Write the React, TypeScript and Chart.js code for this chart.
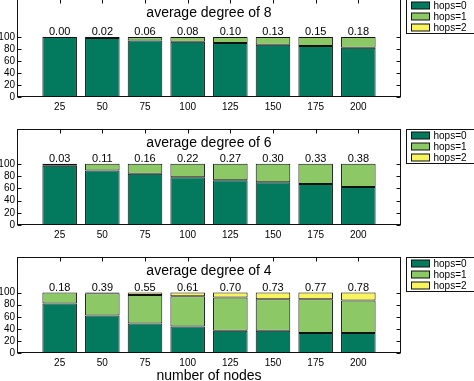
import React, { useEffect, useRef } from 'react';
import { Chart, registerables } from 'chart.js';

Chart.register(...registerables);

// ---------- data ----------
const nodeCounts = [25, 50, 75, 100, 125, 150, 175, 200];
const yTickValues = [0, 20, 40, 60, 80, 100];
const seriesNames = ['hops=0', 'hops=1', 'hops=2'];
const xAxisTitle = 'number of nodes';

const deg8Title = 'average degree of 8';
const deg8Hops0 = [100, 98, 94, 92, 90, 87, 85, 82];
const deg8Hops1 = [0, 2, 6, 8, 10, 13, 15, 18];
const deg8Hops2 = [0, 0, 0, 0, 0, 0, 0, 0];
const deg8AvgLabels = ['0.00', '0.02', '0.06', '0.08', '0.10', '0.13', '0.15', '0.18'];

const deg6Title = 'average degree of 6';
const deg6Hops0 = [97, 89, 84, 78, 73, 70, 67, 62];
const deg6Hops1 = [3, 11, 16, 22, 27, 30, 33, 38];
const deg6Hops2 = [0, 0, 0, 0, 0, 0, 0, 0];
const deg6AvgLabels = ['0.03', '0.11', '0.16', '0.22', '0.27', '0.30', '0.33', '0.38'];

const deg4Title = 'average degree of 4';
const deg4Hops0 = [82, 62, 49, 44, 37, 37, 33, 33];
const deg4Hops1 = [18, 37, 47, 50, 55, 52, 56, 54];
const deg4Hops2 = [0, 1, 4, 6, 8, 11, 11, 13];
const deg4AvgLabels = ['0.18', '0.39', '0.55', '0.61', '0.70', '0.73', '0.77', '0.78'];

// ---------- styles / layout ----------
const FONT = "'Liberation Sans', Arial, Helvetica, sans-serif";
const seriesColors = ['#037a5e', '#8cc866', '#f8f45e'];
const EDGE = '#111111';
const PAD_TOP = 5;
const AXIS_W = 17;
const RIGHT_PAD = 73;
const WIDTH = 474;

type Panel = {
  title: string;
  h0: number[];
  h1: number[];
  h2: number[];
  avg: string[];
  frameTop: number;
  frameHeight: number;
  yMax: number;
  xAxisH: number;
  showXTitle: boolean;
};

const panels: Panel[] = [
  { title: deg8Title, h0: deg8Hops0, h1: deg8Hops1, h2: deg8Hops2, avg: deg8AvgLabels, frameTop: -1, frameHeight: 98, yMax: 163, xAxisH: 18, showXTitle: false },
  { title: deg6Title, h0: deg6Hops0, h1: deg6Hops1, h2: deg6Hops2, avg: deg6AvgLabels, frameTop: 129, frameHeight: 96, yMax: 157, xAxisH: 18, showXTitle: false },
  { title: deg4Title, h0: deg4Hops0, h1: deg4Hops1, h2: deg4Hops2, avg: deg4AvgLabels, frameTop: 257, frameHeight: 96, yMax: 159, xAxisH: 28, showXTitle: true },
];

function PanelChart({ p }: { p: Panel }) {
  const ref = useRef<HTMLCanvasElement | null>(null);
  const height = PAD_TOP + p.frameHeight + p.xAxisH;

  useEffect(() => {
    if (!ref.current) return;
    const series = [p.h0, p.h1, p.h2];

    const framePlugin = {
      id: 'matlabFrame',
      beforeDatasetsDraw(chart: any) {
        const { ctx, chartArea: a, scales } = chart;
        const x = scales.x, y = scales.y;
        const L = Math.round(a.left) + 0.5;
        const R = Math.round(a.right) - 0.5;
        const T = Math.round(a.top) + 0.5;
        const B = Math.round(a.bottom) - 0.5;
        ctx.save();
        ctx.strokeStyle = EDGE;
        ctx.lineWidth = 1;
        ctx.strokeRect(L, T, R - L, B - T);
        ctx.beginPath();
        x.ticks.forEach((t: any) => {
          const px = Math.round(x.getPixelForValue(t.value)) + 0.5;
          ctx.moveTo(px, T); ctx.lineTo(px, T + 4);
          ctx.moveTo(px, B); ctx.lineTo(px, B - 4);
        });
        y.ticks.forEach((t: any) => {
          const py = Math.round(y.getPixelForValue(t.value)) + 0.5;
          ctx.moveTo(L, py); ctx.lineTo(L + 4, py);
          ctx.moveTo(R, py); ctx.lineTo(R - 4, py);
        });
        ctx.stroke();
        ctx.restore();
      },
      afterDraw(chart: any) {
        const { ctx, chartArea: a } = chart;
        ctx.save();
        ctx.fillStyle = '#000';
        ctx.font = `14px ${FONT}`;
        ctx.textAlign = 'center';
        ctx.textBaseline = 'middle';
        ctx.fillText(p.title, (a.left + a.right) / 2, a.top + 14);
        ctx.font = `11px ${FONT}`;
        const topMeta = chart.getDatasetMeta(chart.data.datasets.length - 1);
        topMeta.data.forEach((el: any, i: number) => {
          ctx.fillText(p.avg[i], el.x, el.y - 5);
        });
        const lx = Math.round(a.right) + 5.5;
        const ly = Math.round(a.top) + 0.5;
        ctx.fillStyle = '#fff';
        ctx.fillRect(lx, ly, 90, 34);
        ctx.strokeStyle = EDGE;
        ctx.lineWidth = 1;
        ctx.strokeRect(lx, ly, 90, 34);
        ctx.font = `10px ${FONT}`;
        ctx.textAlign = 'left';
        chart.data.datasets.forEach((ds: any, i: number) => {
          const cy = ly + 6 + i * 11;
          ctx.fillStyle = ds.backgroundColor;
          ctx.fillRect(lx + 5, cy - 3.5, 18, 7);
          ctx.strokeStyle = EDGE;
          ctx.strokeRect(lx + 5, cy - 3.5, 18, 7);
          ctx.fillStyle = '#000';
          ctx.fillText(ds.label, lx + 27, cy + 0.5);
        });
        ctx.restore();
      },
    };

    const chart = new Chart(ref.current, {
      type: 'bar',
      data: {
        datasets: seriesNames.map((name, k) => ({
          label: name,
          data: nodeCounts.map((n, i) => ({ x: n, y: series[k][i] })),
          backgroundColor: seriesColors[k],
          borderColor: EDGE,
          borderWidth: 1,
          borderSkipped: false,
          barPercentage: 0.81,
          categoryPercentage: 1,
        })),
      },
      options: {
        responsive: false,
        maintainAspectRatio: false,
        animation: false,
        layout: { padding: { top: PAD_TOP, right: RIGHT_PAD, left: 0, bottom: 0 } },
        plugins: { legend: { display: false }, tooltip: { enabled: false } },
        scales: {
          x: {
            type: 'linear',
            offset: false,
            stacked: true,
            min: 0,
            max: 225,
            grid: { display: false, drawTicks: false },
            border: { display: false },
            afterBuildTicks: (s: any) => { s.ticks = nodeCounts.map((v) => ({ value: v })); },
            afterFit: (s: any) => { s.height = p.xAxisH; s.paddingLeft = 0; s.paddingRight = 0; },
            ticks: { color: '#000', font: { size: 10, family: FONT }, padding: 4, maxRotation: 0, autoSkip: false, callback: (v: any) => String(v) },
            title: { display: p.showXTitle, text: xAxisTitle, color: '#000', font: { size: 14, family: FONT, lineHeight: 1 }, padding: { top: 0, bottom: -2 } },
          },
          y: {
            type: 'linear',
            stacked: true,
            min: 0,
            max: p.yMax,
            grid: { display: false, drawTicks: false },
            border: { display: false },
            afterBuildTicks: (s: any) => { s.ticks = yTickValues.map((v) => ({ value: v })); },
            afterFit: (s: any) => { s.width = AXIS_W; s.paddingTop = 0; s.paddingBottom = 0; },
            ticks: { color: '#000', font: { size: 10, family: FONT }, padding: 2, callback: (v: any) => String(v) },
          },
        },
      },
      plugins: [framePlugin],
    } as any);
    return () => chart.destroy();
  }, [p]);

  return (
    <canvas
      ref={ref}
      width={WIDTH}
      height={height}
      style={{ position: 'absolute', left: 0, top: p.frameTop - PAD_TOP, width: WIDTH, height }}
    />
  );
}

export default function App() {
  return (
    <div style={{ position: 'fixed', left: 0, top: 0, width: WIDTH, height: 381, overflow: 'hidden', background: '#fff' }}>
      {panels.map((p, i) => (
        <PanelChart key={i} p={p} />
      ))}
    </div>
  );
}
